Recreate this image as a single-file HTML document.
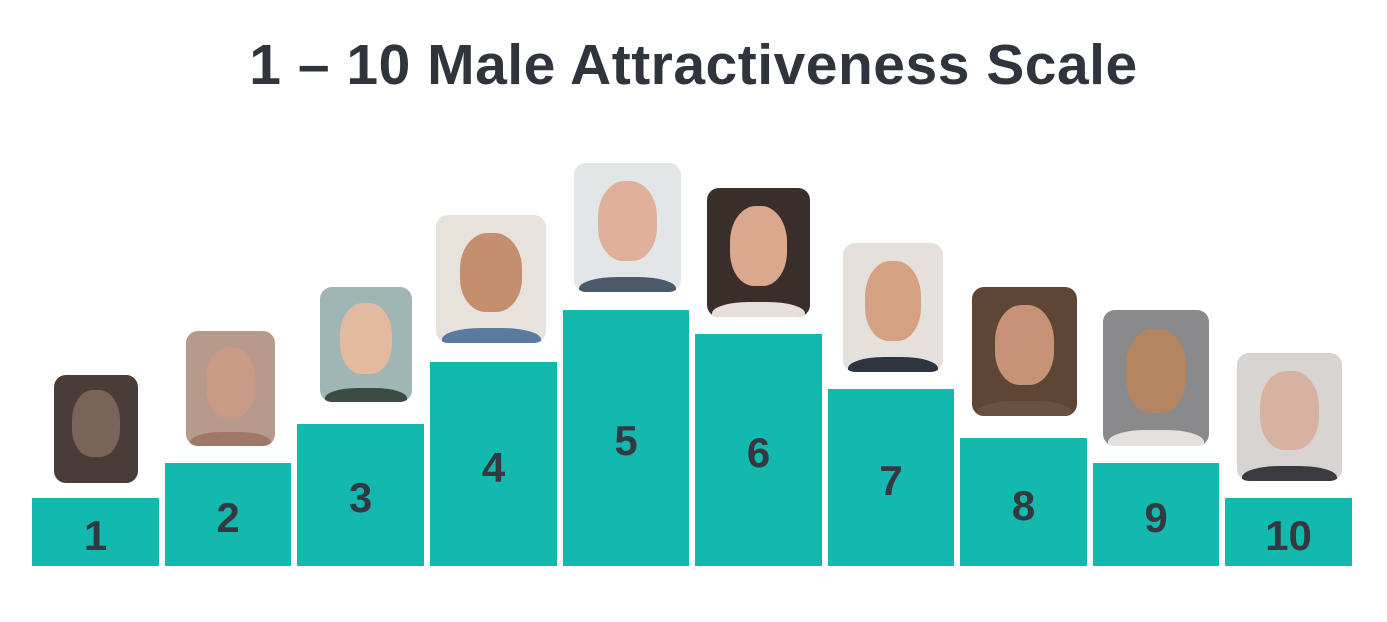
<!DOCTYPE html>
<html><head><meta charset="utf-8"><style>
html,body{margin:0;padding:0;background:#fff;}
body{width:1387px;height:622px;position:relative;overflow:hidden;font-family:"Liberation Sans",sans-serif;}
.t{position:absolute;left:0;width:1387px;top:32px;text-align:center;font-weight:bold;font-size:57px;letter-spacing:0.5px;color:#30353d;}
.b{position:absolute;background:#14b9ae;}
.n{position:absolute;font-weight:bold;font-size:42px;color:#333841;text-align:center;}
.p{position:absolute;border-radius:12px;overflow:hidden;}
.p .f{position:absolute;left:22%;width:56%;top:14%;height:62%;border-radius:45% 45% 42% 42%;}
.p .s{position:absolute;left:5%;width:90%;bottom:-10%;height:22%;border-radius:40% 40% 0 0;}
</style></head><body>
<div class="t">1 – 10 Male Attractiveness Scale</div>

<div class="b" style="left:32px;top:498px;width:127px;height:68px"></div>
<div class="b" style="left:165px;top:463px;width:126px;height:103px"></div>
<div class="b" style="left:297px;top:424px;width:127px;height:142px"></div>
<div class="b" style="left:430px;top:362px;width:127px;height:204px"></div>
<div class="b" style="left:563px;top:310px;width:126px;height:256px"></div>
<div class="b" style="left:695px;top:334px;width:127px;height:232px"></div>
<div class="b" style="left:828px;top:389px;width:126px;height:177px"></div>
<div class="b" style="left:960px;top:438px;width:127px;height:128px"></div>
<div class="b" style="left:1093px;top:463px;width:126px;height:103px"></div>
<div class="b" style="left:1225px;top:498px;width:127px;height:68px"></div>

<div class="n" style="left:32px;width:127px;top:512px">1</div>
<div class="n" style="left:165px;width:126px;top:494px">2</div>
<div class="n" style="left:297px;width:127px;top:474px">3</div>
<div class="n" style="left:430px;width:127px;top:444px">4</div>
<div class="n" style="left:563px;width:126px;top:417px">5</div>
<div class="n" style="left:695px;width:127px;top:429px">6</div>
<div class="n" style="left:828px;width:126px;top:457px">7</div>
<div class="n" style="left:960px;width:127px;top:482px">8</div>
<div class="n" style="left:1093px;width:126px;top:494px">9</div>
<div class="n" style="left:1225px;width:127px;top:512px">10</div>

<div class="p" style="left:54px;top:375px;width:84px;height:108px;background:#4a3c36"><div class="f" style="background:#7a6358"></div></div>
<div class="p" style="left:186px;top:331px;width:89px;height:115px;background:#b89a8c"><div class="f" style="background:#c99a86"></div><div class="s" style="background:#a07868"></div></div>
<div class="p" style="left:320px;top:287px;width:92px;height:115px;background:#9fb6b4"><div class="f" style="background:#e3b9a0"></div><div class="s" style="background:#3c4a44"></div></div>
<div class="p" style="left:436px;top:215px;width:110px;height:128px;background:#e8e2dc"><div class="f" style="background:#c58e6e"></div><div class="s" style="background:#5a7aa0"></div></div>
<div class="p" style="left:574px;top:163px;width:107px;height:129px;background:#e2e6e6"><div class="f" style="background:#e0b09a"></div><div class="s" style="background:#4a5a6c"></div></div>
<div class="p" style="left:707px;top:188px;width:103px;height:129px;background:#3a2e2a"><div class="f" style="background:#dba88e"></div><div class="s" style="background:#e8e0d8"></div></div>
<div class="p" style="left:843px;top:243px;width:100px;height:129px;background:#e6e0dc"><div class="f" style="background:#d4a182"></div><div class="s" style="background:#2e3440"></div></div>
<div class="p" style="left:972px;top:287px;width:105px;height:129px;background:#5e4636"><div class="f" style="background:#c89276"></div><div class="s" style="background:#6a5040"></div></div>
<div class="p" style="left:1103px;top:310px;width:106px;height:136px;background:#8a8a8c"><div class="f" style="background:#b58562"></div><div class="s" style="background:#e4e0dc"></div></div>
<div class="p" style="left:1237px;top:353px;width:105px;height:128px;background:#d8d4d2"><div class="f" style="background:#d8b2a0"></div><div class="s" style="background:#3a3a40"></div></div>
</body></html>
